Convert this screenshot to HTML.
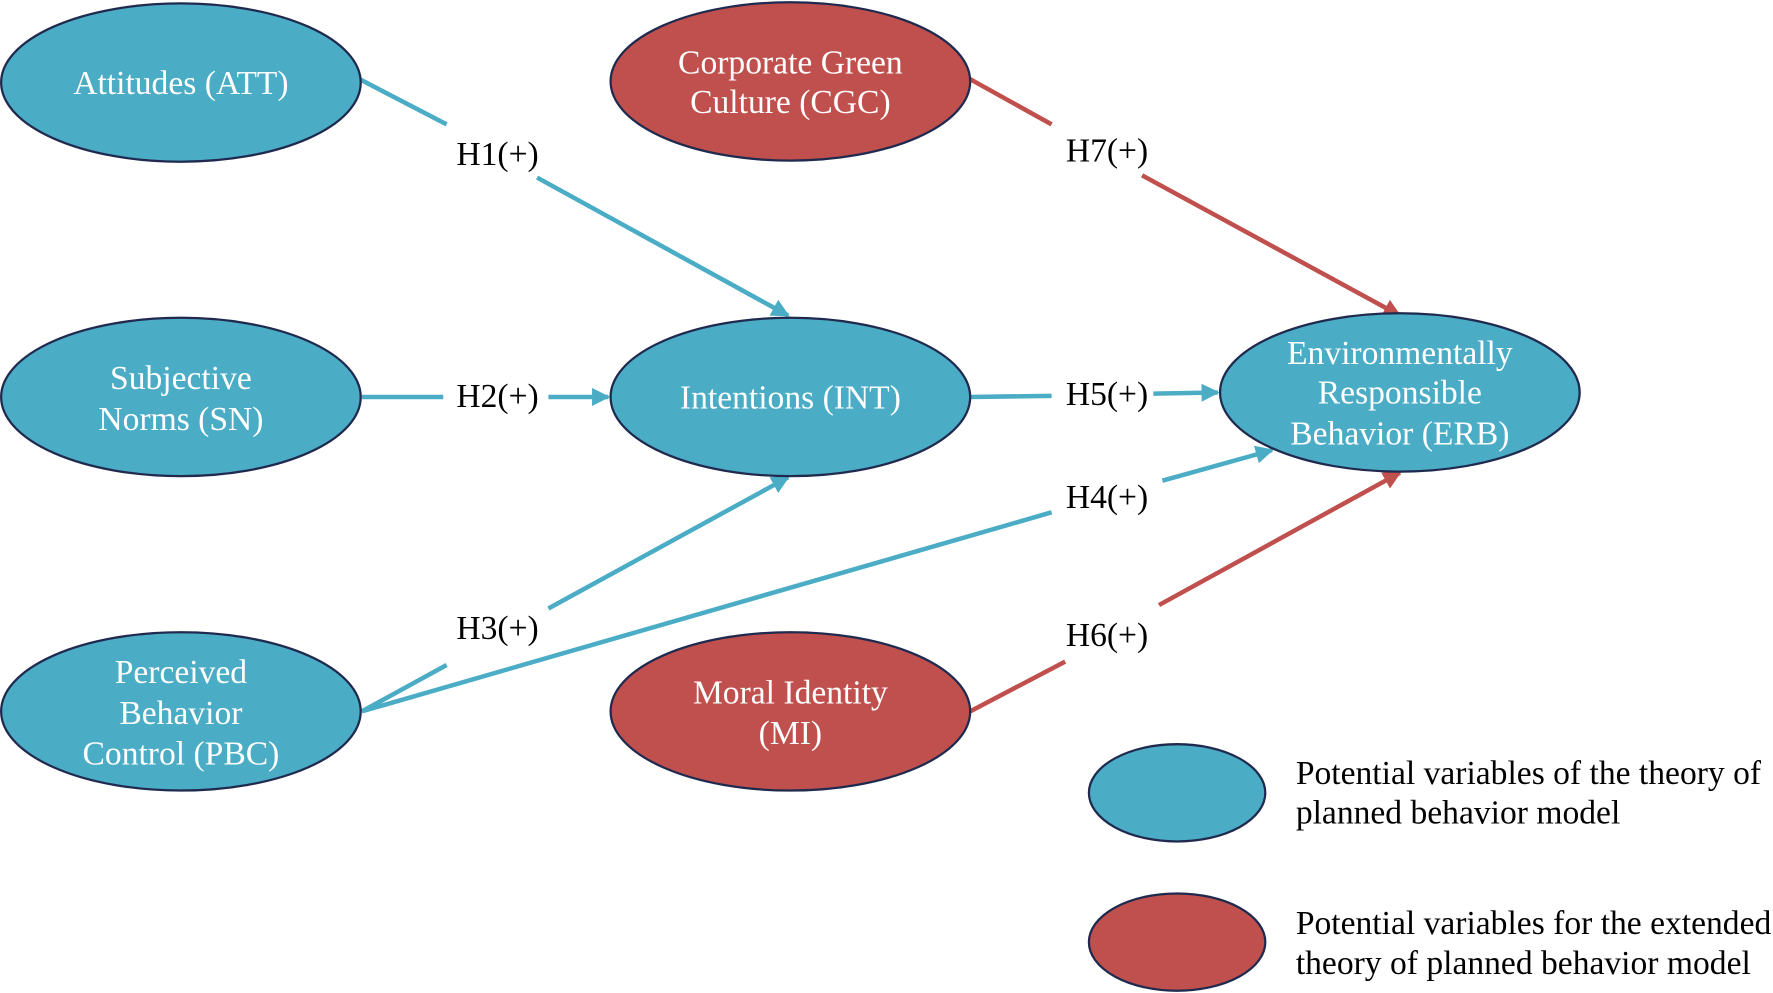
<!DOCTYPE html>
<html><head><meta charset="utf-8"><style>html,body{margin:0;padding:0;background:#fff}svg{display:block}</style></head><body>
<svg width="1773" height="993" viewBox="0 0 1568 878" preserveAspectRatio="none" xmlns="http://www.w3.org/2000/svg">
<defs>
<marker id="ab" viewBox="0 0 10 10" refX="9" refY="5" markerWidth="4" markerHeight="4" orient="auto" markerUnits="strokeWidth"><path d="M0,0 L10,5 L0,10 z" fill="#4BACC6"/></marker>
<marker id="ar" viewBox="0 0 10 10" refX="9" refY="5" markerWidth="4" markerHeight="4" orient="auto" markerUnits="strokeWidth"><path d="M0,0 L10,5 L0,10 z" fill="#C0504D"/></marker>
</defs>
<g stroke-width="4" fill="none">
<g stroke="#4BACC6">
<line x1="318" y1="70" x2="395" y2="110"/>
<line x1="475" y1="157" x2="697" y2="279" marker-end="url(#ab)"/>
<line x1="320" y1="351" x2="392" y2="351"/>
<line x1="485" y1="351" x2="538" y2="351" marker-end="url(#ab)"/>
<line x1="858" y1="351" x2="930" y2="350"/>
<line x1="1020" y1="348" x2="1077" y2="347" marker-end="url(#ab)"/>
<line x1="320" y1="629" x2="395" y2="588"/>
<line x1="485" y1="538" x2="697" y2="422" marker-end="url(#ab)"/>
<line x1="320" y1="629" x2="930" y2="453"/>
<line x1="1028" y1="425" x2="1125" y2="398" marker-end="url(#ab)"/>
</g>
<g stroke="#C0504D">
<line x1="858" y1="70" x2="930" y2="110"/>
<line x1="1010" y1="155" x2="1238" y2="279" marker-end="url(#ar)"/>
<line x1="858" y1="629" x2="942" y2="585"/>
<line x1="1025" y1="535" x2="1238" y2="418" marker-end="url(#ar)"/>
</g>
</g>
<g stroke="#1F2A4E" stroke-width="2">
<ellipse cx="160" cy="73" rx="159" ry="70" fill="#4BACC6"/>
<ellipse cx="699" cy="72" rx="159" ry="70" fill="#C0504D"/>
<ellipse cx="160" cy="351" rx="159" ry="70" fill="#4BACC6"/>
<ellipse cx="699" cy="351" rx="159" ry="70" fill="#4BACC6"/>
<ellipse cx="1238" cy="347" rx="159" ry="70" fill="#4BACC6"/>
<ellipse cx="160" cy="629" rx="159" ry="70" fill="#4BACC6"/>
<ellipse cx="699" cy="629" rx="159" ry="70" fill="#C0504D"/>
<ellipse cx="1041" cy="701" rx="78" ry="43" fill="#4BACC6"/>
<ellipse cx="1041" cy="833" rx="78" ry="43" fill="#C0504D"/>
</g>
<g font-family="Liberation Serif, serif" font-size="29.7" fill="#fff" text-anchor="middle">
<text x="160" y="83">Attitudes (ATT)</text>
<text x="699" y="65">Corporate Green</text><text x="699" y="100">Culture (CGC)</text>
<text x="160" y="344">Subjective</text><text x="160" y="380">Norms (SN)</text>
<text x="699" y="361">Intentions (INT)</text>
<text x="1238" y="322">Environmentally</text><text x="1238" y="357">Responsible</text><text x="1238" y="393">Behavior (ERB)</text>
<text x="160" y="604">Perceived</text><text x="160" y="640">Behavior</text><text x="160" y="676">Control (PBC)</text>
<text x="699" y="622">Moral Identity</text><text x="699" y="658">(MI)</text>
</g>
<g font-family="Liberation Serif, serif" font-size="29.7" fill="#000" text-anchor="middle">
<text x="440" y="146">H1(+)</text>
<text x="440" y="360">H2(+)</text>
<text x="440" y="565">H3(+)</text>
<text x="979" y="449">H4(+)</text>
<text x="979" y="358">H5(+)</text>
<text x="979" y="571">H6(+)</text>
<text x="979" y="143">H7(+)</text>
</g>
<g font-family="Liberation Serif, serif" font-size="29.7" fill="#000">
<text x="1146" y="693">Potential variables of the theory of</text>
<text x="1146" y="728">planned behavior model</text>
<text x="1146" y="826">Potential variables for the extended</text>
<text x="1146" y="861">theory of planned behavior model</text>
</g>
</svg>
</body></html>
